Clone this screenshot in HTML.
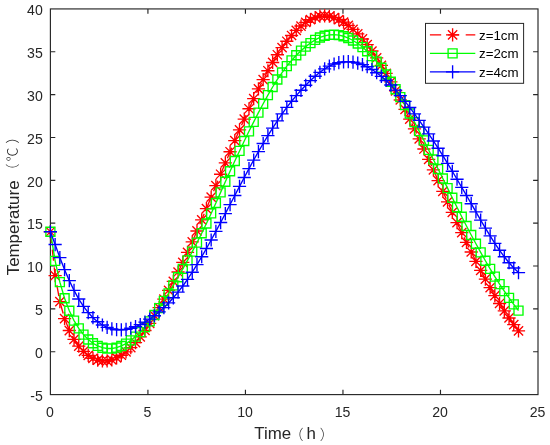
<!DOCTYPE html>
<html lang="zh">
<head>
<meta charset="utf-8">
<title>Temperature vs Time</title>
<style>
html,body{margin:0;padding:0;background:#ffffff;}
body{width:550px;height:445px;overflow:hidden;}
svg{display:block;}
</style>
</head>
<body>
<svg width="550" height="445" viewBox="0 0 550 445">
<rect x="0" y="0" width="550" height="445" fill="#ffffff"/>
<g fill="none" stroke="#262626" stroke-width="1.15">
<rect x="50.4" y="8.93" width="487.6" height="385.67"/>
<path d="M147.92 394.6v-4.9M147.92 8.93v4.9M245.44 394.6v-4.9M245.44 8.93v4.9M342.96 394.6v-4.9M342.96 8.93v4.9M440.48 394.6v-4.9M440.48 8.93v4.9M50.4 351.75h4.9M538 351.75h-4.9M50.4 308.9h4.9M538 308.9h-4.9M50.4 266.04h4.9M538 266.04h-4.9M50.4 223.19h4.9M538 223.19h-4.9M50.4 180.34h4.9M538 180.34h-4.9M50.4 137.49h4.9M538 137.49h-4.9M50.4 94.63h4.9M538 94.63h-4.9M50.4 51.78h4.9M538 51.78h-4.9"/>
</g>
<polyline class="ln" fill="none" stroke="#ff0000" stroke-width="1.35" stroke-dasharray="11.3 6.6" points="50.4,231.76 55.13,275.56 59.86,301.67 64.58,318.63 69.31,330.53 74.04,339.35 78.77,346.12 83.5,351.38 88.23,355.43 92.95,358.33 97.68,360.12 102.41,360.92 107.14,360.79 111.87,359.78 116.6,357.92 121.32,355.26 126.05,351.81 130.78,347.61 135.51,342.65 140.24,336.94 144.96,330.47 149.69,323.33 154.42,315.66 159.15,307.57 163.88,299.13 168.61,290.37 173.33,281.34 178.06,272.02 182.79,262.37 187.52,252.31 192.25,241.82 196.98,230.96 201.7,219.84 206.43,208.55 211.16,197.13 215.89,185.67 220.62,174.25 225.34,162.92 230.07,151.73 234.8,140.68 239.53,129.81 244.26,119.15 248.99,108.75 253.71,98.63 258.44,88.88 263.17,79.56 267.9,70.74 272.63,62.45 277.36,54.75 282.08,47.66 286.81,41.24 291.54,35.48 296.27,30.4 301,26.04 305.73,22.42 310.45,19.56 315.18,17.48 319.91,16.22 324.64,15.81 329.37,16.27 334.09,17.54 338.82,19.54 343.55,22.18 348.28,25.44 353.01,29.32 357.74,33.82 362.46,38.95 367.19,44.69 371.92,51.03 376.65,57.92 381.38,65.37 386.11,73.37 390.83,81.89 395.56,90.79 400.29,99.98 405.02,109.43 409.75,119.09 414.47,128.91 419.2,138.88 423.93,149.02 428.66,159.37 433.39,169.91 438.12,180.59 442.84,191.31 447.57,201.93 452.3,212.38 457.03,222.62 461.76,232.64 466.49,242.42 471.21,251.98 475.94,261.3 480.67,270.36 485.4,279.12 490.13,287.56 494.85,295.69 499.58,303.48 504.31,310.92 509.04,317.97 513.77,324.61 518.5,330.82"/>
<path fill="none" stroke="#ff0000" stroke-width="1.35" d="M43.8 231.76h13.2M50.4 225.16v13.2M45.78 227.14l9.24 9.24M45.78 236.38l9.24 -9.24M48.53 275.56h13.2M55.13 268.96v13.2M50.51 270.94l9.24 9.24M50.51 280.18l9.24 -9.24M53.26 301.67h13.2M59.86 295.07v13.2M55.24 297.05l9.24 9.24M55.24 306.29l9.24 -9.24M57.98 318.63h13.2M64.58 312.03v13.2M59.96 314.01l9.24 9.24M59.96 323.25l9.24 -9.24M62.71 330.53h13.2M69.31 323.93v13.2M64.69 325.91l9.24 9.24M64.69 335.15l9.24 -9.24M67.44 339.35h13.2M74.04 332.75v13.2M69.42 334.73l9.24 9.24M69.42 343.97l9.24 -9.24M72.17 346.12h13.2M78.77 339.52v13.2M74.15 341.5l9.24 9.24M74.15 350.74l9.24 -9.24M76.9 351.38h13.2M83.5 344.78v13.2M78.88 346.76l9.24 9.24M78.88 356l9.24 -9.24M81.63 355.43h13.2M88.23 348.83v13.2M83.61 350.81l9.24 9.24M83.61 360.05l9.24 -9.24M86.35 358.33h13.2M92.95 351.73v13.2M88.33 353.71l9.24 9.24M88.33 362.95l9.24 -9.24M91.08 360.12h13.2M97.68 353.52v13.2M93.06 355.5l9.24 9.24M93.06 364.74l9.24 -9.24M95.81 360.92h13.2M102.41 354.32v13.2M97.79 356.3l9.24 9.24M97.79 365.54l9.24 -9.24M100.54 360.79h13.2M107.14 354.19v13.2M102.52 356.17l9.24 9.24M102.52 365.41l9.24 -9.24M105.27 359.78h13.2M111.87 353.18v13.2M107.25 355.16l9.24 9.24M107.25 364.4l9.24 -9.24M110 357.92h13.2M116.6 351.32v13.2M111.98 353.3l9.24 9.24M111.98 362.54l9.24 -9.24M114.72 355.26h13.2M121.32 348.66v13.2M116.7 350.64l9.24 9.24M116.7 359.88l9.24 -9.24M119.45 351.81h13.2M126.05 345.21v13.2M121.43 347.19l9.24 9.24M121.43 356.43l9.24 -9.24M124.18 347.61h13.2M130.78 341.01v13.2M126.16 342.99l9.24 9.24M126.16 352.23l9.24 -9.24M128.91 342.65h13.2M135.51 336.05v13.2M130.89 338.03l9.24 9.24M130.89 347.27l9.24 -9.24M133.64 336.94h13.2M140.24 330.34v13.2M135.62 332.32l9.24 9.24M135.62 341.56l9.24 -9.24M138.36 330.47h13.2M144.96 323.87v13.2M140.34 325.85l9.24 9.24M140.34 335.09l9.24 -9.24M143.09 323.33h13.2M149.69 316.73v13.2M145.07 318.71l9.24 9.24M145.07 327.95l9.24 -9.24M147.82 315.66h13.2M154.42 309.06v13.2M149.8 311.04l9.24 9.24M149.8 320.28l9.24 -9.24M152.55 307.57h13.2M159.15 300.97v13.2M154.53 302.95l9.24 9.24M154.53 312.19l9.24 -9.24M157.28 299.13h13.2M163.88 292.53v13.2M159.26 294.51l9.24 9.24M159.26 303.75l9.24 -9.24M162.01 290.37h13.2M168.61 283.77v13.2M163.99 285.75l9.24 9.24M163.99 294.99l9.24 -9.24M166.73 281.34h13.2M173.33 274.74v13.2M168.71 276.72l9.24 9.24M168.71 285.96l9.24 -9.24M171.46 272.02h13.2M178.06 265.42v13.2M173.44 267.4l9.24 9.24M173.44 276.64l9.24 -9.24M176.19 262.37h13.2M182.79 255.77v13.2M178.17 257.75l9.24 9.24M178.17 266.99l9.24 -9.24M180.92 252.31h13.2M187.52 245.71v13.2M182.9 247.69l9.24 9.24M182.9 256.93l9.24 -9.24M185.65 241.82h13.2M192.25 235.22v13.2M187.63 237.2l9.24 9.24M187.63 246.44l9.24 -9.24M190.38 230.96h13.2M196.98 224.36v13.2M192.36 226.34l9.24 9.24M192.36 235.58l9.24 -9.24M195.1 219.84h13.2M201.7 213.24v13.2M197.08 215.22l9.24 9.24M197.08 224.46l9.24 -9.24M199.83 208.55h13.2M206.43 201.95v13.2M201.81 203.93l9.24 9.24M201.81 213.17l9.24 -9.24M204.56 197.13h13.2M211.16 190.53v13.2M206.54 192.51l9.24 9.24M206.54 201.75l9.24 -9.24M209.29 185.67h13.2M215.89 179.07v13.2M211.27 181.05l9.24 9.24M211.27 190.29l9.24 -9.24M214.02 174.25h13.2M220.62 167.65v13.2M216 169.63l9.24 9.24M216 178.87l9.24 -9.24M218.74 162.92h13.2M225.34 156.32v13.2M220.72 158.3l9.24 9.24M220.72 167.54l9.24 -9.24M223.47 151.73h13.2M230.07 145.13v13.2M225.45 147.11l9.24 9.24M225.45 156.35l9.24 -9.24M228.2 140.68h13.2M234.8 134.08v13.2M230.18 136.06l9.24 9.24M230.18 145.3l9.24 -9.24M232.93 129.81h13.2M239.53 123.21v13.2M234.91 125.19l9.24 9.24M234.91 134.43l9.24 -9.24M237.66 119.15h13.2M244.26 112.55v13.2M239.64 114.53l9.24 9.24M239.64 123.77l9.24 -9.24M242.39 108.75h13.2M248.99 102.15v13.2M244.37 104.13l9.24 9.24M244.37 113.37l9.24 -9.24M247.11 98.63h13.2M253.71 92.03v13.2M249.09 94.01l9.24 9.24M249.09 103.25l9.24 -9.24M251.84 88.88h13.2M258.44 82.28v13.2M253.82 84.26l9.24 9.24M253.82 93.5l9.24 -9.24M256.57 79.56h13.2M263.17 72.96v13.2M258.55 74.94l9.24 9.24M258.55 84.18l9.24 -9.24M261.3 70.74h13.2M267.9 64.14v13.2M263.28 66.12l9.24 9.24M263.28 75.36l9.24 -9.24M266.03 62.45h13.2M272.63 55.85v13.2M268.01 57.83l9.24 9.24M268.01 67.07l9.24 -9.24M270.76 54.75h13.2M277.36 48.15v13.2M272.74 50.13l9.24 9.24M272.74 59.37l9.24 -9.24M275.48 47.66h13.2M282.08 41.06v13.2M277.46 43.04l9.24 9.24M277.46 52.28l9.24 -9.24M280.21 41.24h13.2M286.81 34.64v13.2M282.19 36.62l9.24 9.24M282.19 45.86l9.24 -9.24M284.94 35.48h13.2M291.54 28.88v13.2M286.92 30.86l9.24 9.24M286.92 40.1l9.24 -9.24M289.67 30.4h13.2M296.27 23.8v13.2M291.65 25.78l9.24 9.24M291.65 35.02l9.24 -9.24M294.4 26.04h13.2M301 19.44v13.2M296.38 21.42l9.24 9.24M296.38 30.66l9.24 -9.24M299.13 22.42h13.2M305.73 15.82v13.2M301.11 17.8l9.24 9.24M301.11 27.04l9.24 -9.24M303.85 19.56h13.2M310.45 12.96v13.2M305.83 14.94l9.24 9.24M305.83 24.18l9.24 -9.24M308.58 17.48h13.2M315.18 10.88v13.2M310.56 12.86l9.24 9.24M310.56 22.1l9.24 -9.24M313.31 16.22h13.2M319.91 9.62v13.2M315.29 11.6l9.24 9.24M315.29 20.84l9.24 -9.24M318.04 15.81h13.2M324.64 9.21v13.2M320.02 11.19l9.24 9.24M320.02 20.43l9.24 -9.24M322.77 16.27h13.2M329.37 9.67v13.2M324.75 11.65l9.24 9.24M324.75 20.89l9.24 -9.24M327.49 17.54h13.2M334.09 10.94v13.2M329.47 12.92l9.24 9.24M329.47 22.16l9.24 -9.24M332.22 19.54h13.2M338.82 12.94v13.2M334.2 14.92l9.24 9.24M334.2 24.16l9.24 -9.24M336.95 22.18h13.2M343.55 15.58v13.2M338.93 17.56l9.24 9.24M338.93 26.8l9.24 -9.24M341.68 25.44h13.2M348.28 18.84v13.2M343.66 20.82l9.24 9.24M343.66 30.06l9.24 -9.24M346.41 29.32h13.2M353.01 22.72v13.2M348.39 24.7l9.24 9.24M348.39 33.94l9.24 -9.24M351.14 33.82h13.2M357.74 27.22v13.2M353.12 29.2l9.24 9.24M353.12 38.44l9.24 -9.24M355.86 38.95h13.2M362.46 32.35v13.2M357.84 34.33l9.24 9.24M357.84 43.57l9.24 -9.24M360.59 44.69h13.2M367.19 38.09v13.2M362.57 40.07l9.24 9.24M362.57 49.31l9.24 -9.24M365.32 51.03h13.2M371.92 44.43v13.2M367.3 46.41l9.24 9.24M367.3 55.65l9.24 -9.24M370.05 57.92h13.2M376.65 51.32v13.2M372.03 53.3l9.24 9.24M372.03 62.54l9.24 -9.24M374.78 65.37h13.2M381.38 58.77v13.2M376.76 60.75l9.24 9.24M376.76 69.99l9.24 -9.24M379.51 73.37h13.2M386.11 66.77v13.2M381.49 68.75l9.24 9.24M381.49 77.99l9.24 -9.24M384.23 81.89h13.2M390.83 75.29v13.2M386.21 77.27l9.24 9.24M386.21 86.51l9.24 -9.24M388.96 90.79h13.2M395.56 84.19v13.2M390.94 86.17l9.24 9.24M390.94 95.41l9.24 -9.24M393.69 99.98h13.2M400.29 93.38v13.2M395.67 95.36l9.24 9.24M395.67 104.6l9.24 -9.24M398.42 109.43h13.2M405.02 102.83v13.2M400.4 104.81l9.24 9.24M400.4 114.05l9.24 -9.24M403.15 119.09h13.2M409.75 112.49v13.2M405.13 114.47l9.24 9.24M405.13 123.71l9.24 -9.24M407.87 128.91h13.2M414.47 122.31v13.2M409.85 124.29l9.24 9.24M409.85 133.53l9.24 -9.24M412.6 138.88h13.2M419.2 132.28v13.2M414.58 134.26l9.24 9.24M414.58 143.5l9.24 -9.24M417.33 149.02h13.2M423.93 142.42v13.2M419.31 144.4l9.24 9.24M419.31 153.64l9.24 -9.24M422.06 159.37h13.2M428.66 152.77v13.2M424.04 154.75l9.24 9.24M424.04 163.99l9.24 -9.24M426.79 169.91h13.2M433.39 163.31v13.2M428.77 165.29l9.24 9.24M428.77 174.53l9.24 -9.24M431.52 180.59h13.2M438.12 173.99v13.2M433.5 175.97l9.24 9.24M433.5 185.21l9.24 -9.24M436.24 191.31h13.2M442.84 184.71v13.2M438.22 186.69l9.24 9.24M438.22 195.93l9.24 -9.24M440.97 201.93h13.2M447.57 195.33v13.2M442.95 197.31l9.24 9.24M442.95 206.55l9.24 -9.24M445.7 212.38h13.2M452.3 205.78v13.2M447.68 207.76l9.24 9.24M447.68 217l9.24 -9.24M450.43 222.62h13.2M457.03 216.02v13.2M452.41 218l9.24 9.24M452.41 227.24l9.24 -9.24M455.16 232.64h13.2M461.76 226.04v13.2M457.14 228.02l9.24 9.24M457.14 237.26l9.24 -9.24M459.89 242.42h13.2M466.49 235.82v13.2M461.87 237.8l9.24 9.24M461.87 247.04l9.24 -9.24M464.61 251.98h13.2M471.21 245.38v13.2M466.59 247.36l9.24 9.24M466.59 256.6l9.24 -9.24M469.34 261.3h13.2M475.94 254.7v13.2M471.32 256.68l9.24 9.24M471.32 265.92l9.24 -9.24M474.07 270.36h13.2M480.67 263.76v13.2M476.05 265.74l9.24 9.24M476.05 274.98l9.24 -9.24M478.8 279.12h13.2M485.4 272.52v13.2M480.78 274.5l9.24 9.24M480.78 283.74l9.24 -9.24M483.53 287.56h13.2M490.13 280.96v13.2M485.51 282.94l9.24 9.24M485.51 292.18l9.24 -9.24M488.25 295.69h13.2M494.85 289.09v13.2M490.23 291.07l9.24 9.24M490.23 300.31l9.24 -9.24M492.98 303.48h13.2M499.58 296.88v13.2M494.96 298.86l9.24 9.24M494.96 308.1l9.24 -9.24M497.71 310.92h13.2M504.31 304.32v13.2M499.69 306.3l9.24 9.24M499.69 315.54l9.24 -9.24M502.44 317.97h13.2M509.04 311.37v13.2M504.42 313.35l9.24 9.24M504.42 322.59l9.24 -9.24M507.17 324.61h13.2M513.77 318.01v13.2M509.15 319.99l9.24 9.24M509.15 329.23l9.24 -9.24M511.9 330.82h13.2M518.5 324.22v13.2M513.88 326.2l9.24 9.24M513.88 335.44l9.24 -9.24"/>
<polyline class="ln" fill="none" stroke="#00ff00" stroke-width="1.35" points="50.4,231.76 55.13,260.87 59.86,282.16 64.58,298.25 69.31,310.72 74.04,320.56 78.77,328.38 83.5,334.6 88.23,339.48 92.95,343.21 97.68,345.94 102.41,347.7 107.14,348.53 111.87,348.49 116.6,347.62 121.32,345.97 126.05,343.56 130.78,340.42 135.51,336.61 140.24,332.16 144.96,327.09 149.69,321.37 154.42,315.03 159.15,308.18 163.88,300.91 168.61,293.3 173.33,285.4 178.06,277.26 182.79,268.93 187.52,260.4 192.25,251.68 196.98,242.65 201.7,233.25 206.43,223.49 211.16,213.42 215.89,203.04 220.62,192.39 225.34,181.72 230.07,171.26 234.8,161.01 239.53,150.93 244.26,141.02 248.99,131.32 253.71,121.86 258.44,112.67 263.17,103.76 267.9,95.14 272.63,87 277.36,79.46 282.08,72.52 286.81,66.18 291.54,60.43 296.27,55.27 301,50.68 305.73,46.63 310.45,43.06 315.18,39.93 319.91,37.45 324.64,35.78 329.37,34.87 334.09,34.66 338.82,35.11 343.55,36.23 348.28,38.02 353.01,40.47 357.74,43.5 362.46,47.07 367.19,51.26 371.92,56.1 376.65,61.6 381.38,67.74 386.11,74.47 390.83,81.71 395.56,89.29 400.29,97.11 405.02,105.17 409.75,113.5 414.47,122.15 419.2,131.12 423.93,140.41 428.66,149.94 433.39,159.48 438.12,168.97 442.84,178.5 447.57,188.11 452.3,197.72 457.03,207.27 461.76,216.7 466.49,225.96 471.21,234.99 475.94,243.79 480.67,252.39 485.4,260.78 490.13,268.9 494.85,276.67 499.58,284.07 504.31,291.11 509.04,297.86 513.77,304.35 518.5,310.55"/>
<path fill="none" stroke="#00ff00" stroke-width="1.35" d="M45.9 227.26h9v9h-9zM50.63 256.37h9v9h-9zM55.36 277.66h9v9h-9zM60.08 293.75h9v9h-9zM64.81 306.22h9v9h-9zM69.54 316.06h9v9h-9zM74.27 323.88h9v9h-9zM79 330.1h9v9h-9zM83.73 334.98h9v9h-9zM88.45 338.71h9v9h-9zM93.18 341.44h9v9h-9zM97.91 343.2h9v9h-9zM102.64 344.03h9v9h-9zM107.37 343.99h9v9h-9zM112.1 343.12h9v9h-9zM116.82 341.47h9v9h-9zM121.55 339.06h9v9h-9zM126.28 335.92h9v9h-9zM131.01 332.11h9v9h-9zM135.74 327.66h9v9h-9zM140.46 322.59h9v9h-9zM145.19 316.87h9v9h-9zM149.92 310.53h9v9h-9zM154.65 303.68h9v9h-9zM159.38 296.41h9v9h-9zM164.11 288.8h9v9h-9zM168.83 280.9h9v9h-9zM173.56 272.76h9v9h-9zM178.29 264.43h9v9h-9zM183.02 255.9h9v9h-9zM187.75 247.18h9v9h-9zM192.48 238.15h9v9h-9zM197.2 228.75h9v9h-9zM201.93 218.99h9v9h-9zM206.66 208.92h9v9h-9zM211.39 198.54h9v9h-9zM216.12 187.89h9v9h-9zM220.84 177.22h9v9h-9zM225.57 166.76h9v9h-9zM230.3 156.51h9v9h-9zM235.03 146.43h9v9h-9zM239.76 136.52h9v9h-9zM244.49 126.82h9v9h-9zM249.21 117.36h9v9h-9zM253.94 108.17h9v9h-9zM258.67 99.26h9v9h-9zM263.4 90.64h9v9h-9zM268.13 82.5h9v9h-9zM272.86 74.96h9v9h-9zM277.58 68.02h9v9h-9zM282.31 61.68h9v9h-9zM287.04 55.93h9v9h-9zM291.77 50.77h9v9h-9zM296.5 46.18h9v9h-9zM301.23 42.13h9v9h-9zM305.95 38.56h9v9h-9zM310.68 35.43h9v9h-9zM315.41 32.95h9v9h-9zM320.14 31.28h9v9h-9zM324.87 30.37h9v9h-9zM329.59 30.16h9v9h-9zM334.32 30.61h9v9h-9zM339.05 31.73h9v9h-9zM343.78 33.52h9v9h-9zM348.51 35.97h9v9h-9zM353.24 39h9v9h-9zM357.96 42.57h9v9h-9zM362.69 46.76h9v9h-9zM367.42 51.6h9v9h-9zM372.15 57.1h9v9h-9zM376.88 63.24h9v9h-9zM381.61 69.97h9v9h-9zM386.33 77.21h9v9h-9zM391.06 84.79h9v9h-9zM395.79 92.61h9v9h-9zM400.52 100.67h9v9h-9zM405.25 109h9v9h-9zM409.97 117.65h9v9h-9zM414.7 126.62h9v9h-9zM419.43 135.91h9v9h-9zM424.16 145.44h9v9h-9zM428.89 154.98h9v9h-9zM433.62 164.47h9v9h-9zM438.34 174h9v9h-9zM443.07 183.61h9v9h-9zM447.8 193.22h9v9h-9zM452.53 202.77h9v9h-9zM457.26 212.2h9v9h-9zM461.99 221.46h9v9h-9zM466.71 230.49h9v9h-9zM471.44 239.29h9v9h-9zM476.17 247.89h9v9h-9zM480.9 256.28h9v9h-9zM485.63 264.4h9v9h-9zM490.35 272.17h9v9h-9zM495.08 279.57h9v9h-9zM499.81 286.61h9v9h-9zM504.54 293.36h9v9h-9zM509.27 299.85h9v9h-9zM514 306.05h9v9h-9z"/>
<polyline class="ln" fill="none" stroke="#0000ff" stroke-width="1.35" points="50.4,231.76 55.13,244.54 59.86,257.6 64.58,269.65 69.31,280.62 74.04,290.44 78.77,299.03 83.5,306.38 88.23,312.56 92.95,317.65 97.68,321.77 102.41,324.99 107.14,327.35 111.87,328.91 116.6,329.71 121.32,329.83 126.05,329.33 130.78,328.26 135.51,326.67 140.24,324.61 144.96,322.09 149.69,319.13 154.42,315.74 159.15,311.92 163.88,307.65 168.61,302.94 173.33,297.79 178.06,292.15 182.79,285.98 187.52,279.33 192.25,272.21 196.98,264.67 201.7,256.75 206.43,248.51 211.16,240.02 215.89,231.35 220.62,222.54 225.34,213.6 230.07,204.56 234.8,195.47 239.53,186.42 244.26,177.47 248.99,168.66 253.71,160.05 258.44,151.65 263.17,143.5 267.9,135.62 272.63,128.05 277.36,120.8 282.08,113.89 286.81,107.36 291.54,101.24 296.27,95.57 301,90.28 305.73,85.27 310.45,80.56 315.18,76.22 319.91,72.31 324.64,68.92 329.37,66.13 334.09,64.02 338.82,62.58 343.55,61.8 348.28,61.64 353.01,62.05 357.74,63.05 362.46,64.62 367.19,66.77 371.92,69.48 376.65,72.7 381.38,76.37 386.11,80.46 390.83,85.04 395.56,90.1 400.29,95.56 405.02,101.37 409.75,107.46 414.47,113.81 419.2,120.35 423.93,127.05 428.66,133.91 433.39,140.96 438.12,148.23 442.84,155.72 447.57,163.41 452.3,171.26 457.03,179.24 461.76,187.32 466.49,195.49 471.21,203.71 475.94,211.94 480.67,220.11 485.4,228.14 490.13,235.92 494.85,243.32 499.58,250.29 504.31,256.78 509.04,262.72 513.77,268.03 518.5,272.59"/>
<path fill="none" stroke="#0000ff" stroke-width="1.35" d="M43.8 231.76h13.2M50.4 225.16v13.2M48.53 244.54h13.2M55.13 237.94v13.2M53.26 257.6h13.2M59.86 251v13.2M57.98 269.65h13.2M64.58 263.05v13.2M62.71 280.62h13.2M69.31 274.02v13.2M67.44 290.44h13.2M74.04 283.84v13.2M72.17 299.03h13.2M78.77 292.43v13.2M76.9 306.38h13.2M83.5 299.78v13.2M81.63 312.56h13.2M88.23 305.96v13.2M86.35 317.65h13.2M92.95 311.05v13.2M91.08 321.77h13.2M97.68 315.17v13.2M95.81 324.99h13.2M102.41 318.39v13.2M100.54 327.35h13.2M107.14 320.75v13.2M105.27 328.91h13.2M111.87 322.31v13.2M110 329.71h13.2M116.6 323.11v13.2M114.72 329.83h13.2M121.32 323.23v13.2M119.45 329.33h13.2M126.05 322.73v13.2M124.18 328.26h13.2M130.78 321.66v13.2M128.91 326.67h13.2M135.51 320.07v13.2M133.64 324.61h13.2M140.24 318.01v13.2M138.36 322.09h13.2M144.96 315.49v13.2M143.09 319.13h13.2M149.69 312.53v13.2M147.82 315.74h13.2M154.42 309.14v13.2M152.55 311.92h13.2M159.15 305.32v13.2M157.28 307.65h13.2M163.88 301.05v13.2M162.01 302.94h13.2M168.61 296.34v13.2M166.73 297.79h13.2M173.33 291.19v13.2M171.46 292.15h13.2M178.06 285.55v13.2M176.19 285.98h13.2M182.79 279.38v13.2M180.92 279.33h13.2M187.52 272.73v13.2M185.65 272.21h13.2M192.25 265.61v13.2M190.38 264.67h13.2M196.98 258.07v13.2M195.1 256.75h13.2M201.7 250.15v13.2M199.83 248.51h13.2M206.43 241.91v13.2M204.56 240.02h13.2M211.16 233.42v13.2M209.29 231.35h13.2M215.89 224.75v13.2M214.02 222.54h13.2M220.62 215.94v13.2M218.74 213.6h13.2M225.34 207v13.2M223.47 204.56h13.2M230.07 197.96v13.2M228.2 195.47h13.2M234.8 188.87v13.2M232.93 186.42h13.2M239.53 179.82v13.2M237.66 177.47h13.2M244.26 170.87v13.2M242.39 168.66h13.2M248.99 162.06v13.2M247.11 160.05h13.2M253.71 153.45v13.2M251.84 151.65h13.2M258.44 145.05v13.2M256.57 143.5h13.2M263.17 136.9v13.2M261.3 135.62h13.2M267.9 129.02v13.2M266.03 128.05h13.2M272.63 121.45v13.2M270.76 120.8h13.2M277.36 114.2v13.2M275.48 113.89h13.2M282.08 107.29v13.2M280.21 107.36h13.2M286.81 100.76v13.2M284.94 101.24h13.2M291.54 94.64v13.2M289.67 95.57h13.2M296.27 88.97v13.2M294.4 90.28h13.2M301 83.68v13.2M299.13 85.27h13.2M305.73 78.67v13.2M303.85 80.56h13.2M310.45 73.96v13.2M308.58 76.22h13.2M315.18 69.62v13.2M313.31 72.31h13.2M319.91 65.71v13.2M318.04 68.92h13.2M324.64 62.32v13.2M322.77 66.13h13.2M329.37 59.53v13.2M327.49 64.02h13.2M334.09 57.42v13.2M332.22 62.58h13.2M338.82 55.98v13.2M336.95 61.8h13.2M343.55 55.2v13.2M341.68 61.64h13.2M348.28 55.04v13.2M346.41 62.05h13.2M353.01 55.45v13.2M351.14 63.05h13.2M357.74 56.45v13.2M355.86 64.62h13.2M362.46 58.02v13.2M360.59 66.77h13.2M367.19 60.17v13.2M365.32 69.48h13.2M371.92 62.88v13.2M370.05 72.7h13.2M376.65 66.1v13.2M374.78 76.37h13.2M381.38 69.77v13.2M379.51 80.46h13.2M386.11 73.86v13.2M384.23 85.04h13.2M390.83 78.44v13.2M388.96 90.1h13.2M395.56 83.5v13.2M393.69 95.56h13.2M400.29 88.96v13.2M398.42 101.37h13.2M405.02 94.77v13.2M403.15 107.46h13.2M409.75 100.86v13.2M407.87 113.81h13.2M414.47 107.21v13.2M412.6 120.35h13.2M419.2 113.75v13.2M417.33 127.05h13.2M423.93 120.45v13.2M422.06 133.91h13.2M428.66 127.31v13.2M426.79 140.96h13.2M433.39 134.36v13.2M431.52 148.23h13.2M438.12 141.63v13.2M436.24 155.72h13.2M442.84 149.12v13.2M440.97 163.41h13.2M447.57 156.81v13.2M445.7 171.26h13.2M452.3 164.66v13.2M450.43 179.24h13.2M457.03 172.64v13.2M455.16 187.32h13.2M461.76 180.72v13.2M459.89 195.49h13.2M466.49 188.89v13.2M464.61 203.71h13.2M471.21 197.11v13.2M469.34 211.94h13.2M475.94 205.34v13.2M474.07 220.11h13.2M480.67 213.51v13.2M478.8 228.14h13.2M485.4 221.54v13.2M483.53 235.92h13.2M490.13 229.32v13.2M488.25 243.32h13.2M494.85 236.72v13.2M492.98 250.29h13.2M499.58 243.69v13.2M497.71 256.78h13.2M504.31 250.18v13.2M502.44 262.72h13.2M509.04 256.12v13.2M507.17 268.03h13.2M513.77 261.43v13.2M511.9 272.59h13.2M518.5 265.99v13.2"/>
<g font-family="'Liberation Sans', sans-serif" font-size="14.1" fill="#262626">
<text x="50" y="416.8" text-anchor="middle">0</text>
<text x="147.52" y="416.8" text-anchor="middle">5</text>
<text x="245.04" y="416.8" text-anchor="middle">10</text>
<text x="342.56" y="416.8" text-anchor="middle">15</text>
<text x="440.08" y="416.8" text-anchor="middle">20</text>
<text x="537.6" y="416.8" text-anchor="middle">25</text>
<text x="42.8" y="400.8" text-anchor="end">-5</text>
<text x="42.8" y="357.95" text-anchor="end">0</text>
<text x="42.8" y="315.1" text-anchor="end">5</text>
<text x="42.8" y="272.24" text-anchor="end">10</text>
<text x="42.8" y="229.39" text-anchor="end">15</text>
<text x="42.8" y="186.54" text-anchor="end">20</text>
<text x="42.8" y="143.69" text-anchor="end">25</text>
<text x="42.8" y="100.83" text-anchor="end">30</text>
<text x="42.8" y="57.98" text-anchor="end">35</text>
<text x="42.8" y="15.13" text-anchor="end">40</text>
</g>
<g font-family="'Liberation Sans', 'Noto Sans CJK SC', sans-serif" font-size="16.9" fill="#262626">
<text y="439.2"><tspan x="254.2">Time</tspan><tspan x="289.4" dy="0" font-family="'Liberation Sans', 'Noto Sans CJK SC', sans-serif" font-size="14" font-weight="300">（</tspan><tspan x="306.4" dy="0">h</tspan><tspan x="319.8" dy="0" font-family="'Liberation Sans', 'Noto Sans CJK SC', sans-serif" font-size="14" font-weight="300">）</tspan></text>
<text transform="translate(18.9 201.8) rotate(-90)"><tspan x="-73.5">Temperature</tspan><tspan x="24.4" dy="-2" font-family="'Liberation Sans', 'Noto Sans CJK SC', sans-serif" font-size="14" font-weight="300">（</tspan><tspan x="40.4" font-family="'Liberation Sans', 'Noto Sans CJK SC', sans-serif" font-size="14" font-weight="300">℃</tspan><tspan x="58" font-family="'Liberation Sans', 'Noto Sans CJK SC', sans-serif" font-size="14" font-weight="300">）</tspan></text>
</g>
<rect x="425.5" y="23.4" width="98.1" height="59.9" fill="#ffffff" stroke="#262626" stroke-width="1.0"/>
<path fill="none" stroke="#ff0000" stroke-width="1.35" stroke-dasharray="11.3 6.6" d="M429.9 34.9H475.3"/>
<path fill="none" stroke="#ff0000" stroke-width="1.35" d="M446 34.9h13.2M452.6 28.3v13.2M447.98 30.28l9.24 9.24M447.98 39.52l9.24 -9.24"/>
<text x="479" y="39.8" font-family="'Liberation Sans', sans-serif" font-size="13.3" fill="#000000">z=1cm</text>
<path fill="none" stroke="#00ff00" stroke-width="1.35" d="M429.9 53.4H475.3"/>
<path fill="none" stroke="#00ff00" stroke-width="1.35" d="M448.1 48.9h9v9h-9z"/>
<text x="479" y="58.3" font-family="'Liberation Sans', sans-serif" font-size="13.3" fill="#000000">z=2cm</text>
<path fill="none" stroke="#0000ff" stroke-width="1.35" d="M429.9 71.9H475.3"/>
<path fill="none" stroke="#0000ff" stroke-width="1.35" d="M446 71.9h13.2M452.6 65.3v13.2"/>
<text x="479" y="76.8" font-family="'Liberation Sans', sans-serif" font-size="13.3" fill="#000000">z=4cm</text>
</svg>
</body>
</html>
